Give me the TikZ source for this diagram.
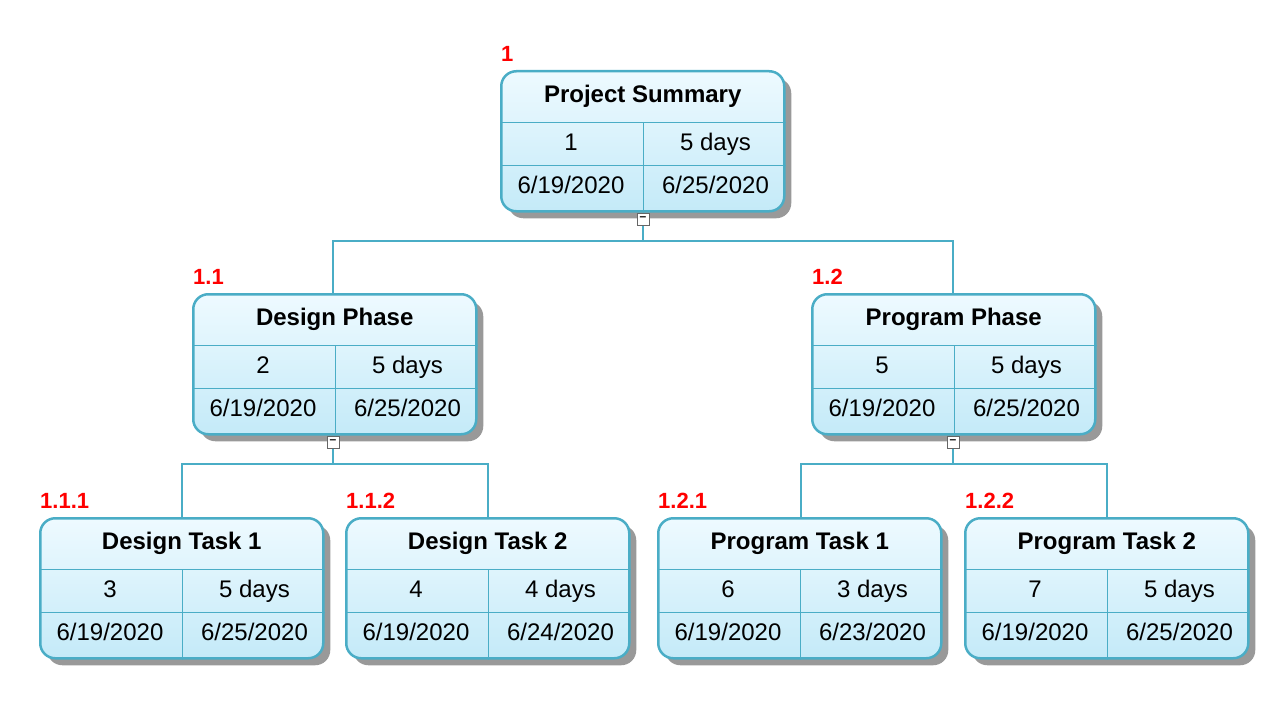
\documentclass[tikz,border=0pt]{standalone}
\usepackage{fontspec}
\setmainfont{Liberation Sans}
\usetikzlibrary{shadows}
\definecolor{wbsb}{HTML}{4AADC6}
\definecolor{ftop}{HTML}{EEFAFF}
\definecolor{fbot}{HTML}{C4EAF8}
\tikzset{
 wbox/.style={draw=wbsb, line width=2.5pt, rounded corners=15pt, top color=ftop, bottom color=fbot, minimum width=283pt, minimum height=140pt, anchor=north west, drop shadow={shadow xshift=7pt, shadow yshift=-7pt, fill=black!40, opacity=1}},
 inner/.style={draw=wbsb, line width=1pt},
 conn/.style={draw=wbsb, line width=2.5pt},
 ttl/.style={font=\bfseries\fontsize{24}{26}\selectfont, text height=17pt, text depth=5pt, inner sep=0pt},
 txt/.style={font=\fontsize{24}{26}\selectfont, text height=17pt, text depth=5pt, inner sep=0pt},
 num/.style={font=\bfseries\fontsize{22}{24}\selectfont, text=red, anchor=west, inner sep=0pt},
 minus/.style={draw=black!60, fill=white, minimum size=12pt, inner sep=0pt, line width=0.6pt, font=\bfseries\fontsize{12}{12}\selectfont}
}
\newcommand{\wbsbox}[9]{%
 \node[wbox] (#1) at (#2,#3) {};
 \draw[inner] ([yshift=-52pt]#1.north west) -- ([yshift=-52pt]#1.north east);
 \draw[inner] ([yshift=-95pt]#1.north west) -- ([yshift=-95pt]#1.north east);
 \draw[inner] ([xshift=143pt,yshift=-52pt]#1.north west) -- ([xshift=143pt]#1.south west);
 \node[ttl] (#1t) at ([yshift=-26pt]#1.north) {#4};
 \node[txt] (#1a) at ([xshift=71pt,yshift=-74pt]#1.north west) {#5};
 \node[txt] (#1b) at ([xshift=-70pt,yshift=-74pt]#1.north east) {#6};
 \node[txt] (#1c) at ([xshift=71pt,yshift=-117pt]#1.north west) {#7};
 \node[txt] (#1d) at ([xshift=-70pt,yshift=-117pt]#1.north east) {#8};
 \node[num] (#1n) at ([xshift=1pt,yshift=16pt]#1.north west) {#9};
}
\begin{document}
\begin{tikzpicture}[x=1pt,y=-1pt]
\useasboundingbox (0,0) rectangle (1282,701);
\coordinate (h1) at (643,241);
\coordinate (h2) at (333,464);
\coordinate (h3) at (953,464);
\draw[conn] (643,210) -- (h1);
\draw[conn] (333,293) |- (h1) -| (953,293);
\draw[conn] (333,433) -- (h2);
\draw[conn] (182,517) |- (h2) -| (488,517);
\draw[conn] (953,433) -- (h3);
\draw[conn] (801,517) |- (h3) -| (1107,517);
\wbsbox{p}{500}{70}{Project Summary}{1}{5 days}{6/19/2020}{6/25/2020}{1}
\wbsbox{d}{192}{293}{Design Phase}{2}{5 days}{6/19/2020}{6/25/2020}{1.1}
\wbsbox{g}{811}{293}{Program Phase}{5}{5 days}{6/19/2020}{6/25/2020}{1.2}
\wbsbox{d1}{39}{517}{Design Task 1}{3}{5 days}{6/19/2020}{6/25/2020}{1.1.1}
\wbsbox{d2}{345}{517}{Design Task 2}{4}{4 days}{6/19/2020}{6/24/2020}{1.1.2}
\wbsbox{g1}{657}{517}{Program Task 1}{6}{3 days}{6/19/2020}{6/23/2020}{1.2.1}
\wbsbox{g2}{964}{517}{Program Task 2}{7}{5 days}{6/19/2020}{6/25/2020}{1.2.2}
\node[minus] (m1) at (643,219) {--};
\node[minus] (m2) at (333,442) {--};
\node[minus] (m3) at (953,442) {--};
\end{tikzpicture}
\end{document}
